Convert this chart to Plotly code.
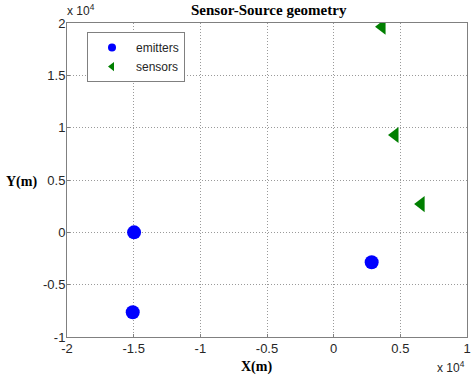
import plotly.graph_objects as go

# Data (metres)
emitter_x = [-14970, -15070, 2850]
emitter_y = [0, -7630, -2860]
sensor_x = [3630, 4600, 6560]
sensor_y = [19650, 9300, 2700]

x_ticks = [-20000, -15000, -10000, -5000, 0, 5000, 10000]
x_ticktext = ["-2", "-1.5", "-1", "-0.5", "0", "0.5", "1"]
y_ticks = [-10000, -5000, 0, 5000, 10000, 15000, 20000]
y_ticktext = ["-1", "-0.5", "0", "0.5", "1", "1.5", "2"]

BLUE = "#0000FF"
GREEN = "#007F00"
SANS = "Liberation Sans, Arial"
SERIF = "Liberation Serif, Times New Roman"

fig = go.Figure()
fig.add_trace(go.Scatter(x=emitter_x, y=emitter_y, mode="markers", name="emitters",
                         showlegend=False,
                         marker=dict(symbol="circle", size=14, color=BLUE)))
fig.add_trace(go.Scatter(x=sensor_x, y=sensor_y, mode="markers", name="sensors",
                         showlegend=False,
                         marker=dict(symbol="triangle-left", size=14, color=GREEN)))
# legend entries (smaller legend symbols as in the reference)
fig.add_trace(go.Scatter(x=[None], y=[None], mode="markers", name="emitters",
                         marker=dict(symbol="circle", size=8, color=BLUE)))
fig.add_trace(go.Scatter(x=[None], y=[None], mode="markers", name="sensors",
                         marker=dict(symbol="triangle-left", size=8, color=GREEN)))

axis_common = dict(showline=True, linecolor="#808080", linewidth=1, mirror=True,
                   showgrid=True, gridcolor="#9A9A9A", griddash="1px,2px", gridwidth=1,
                   zeroline=False, ticks="inside", ticklen=3, tickcolor="#808080",
                   tickfont=dict(family=SANS, size=13, color="#262626"),
                   automargin=False)

fig.update_xaxes(range=[-20000, 10000], tickvals=x_ticks, ticktext=x_ticktext,
                 ticklabelstandoff=-1, **axis_common)
fig.update_yaxes(range=[-10000, 20000], tickvals=y_ticks, ticktext=y_ticktext,
                 ticklabelstandoff=-2, **axis_common)

fig.update_layout(
    width=474, height=380,
    margin=dict(l=67, r=7, t=23, b=43),
    paper_bgcolor="white", plot_bgcolor="white",
    showlegend=True,
    legend=dict(x=0.05, y=0.971, xanchor="left", yanchor="top",
                bgcolor="white", bordercolor="#808080", borderwidth=1,
                font=dict(family=SANS, size=12, color="#262626"),
                itemwidth=38, tracegroupgap=0),
    annotations=[
        dict(text="<b>Sensor-Source geometry</b>", xref="paper", yref="paper",
             x=0.506, y=1.0, yshift=3, xanchor="center", yanchor="bottom", showarrow=False,
             font=dict(family=SERIF, size=15, color="black")),
        dict(text="<b>X(m)</b>", xref="paper", yref="paper", x=0.4725, y=0, yshift=-20,
             xanchor="center", yanchor="top", showarrow=False,
             font=dict(family=SERIF, size=14, color="black")),
        dict(text="<b>Y(m)</b>", xref="paper", yref="paper", x=0, xshift=-28, y=0.494,
             xanchor="right", yanchor="middle", showarrow=False,
             font=dict(family=SERIF, size=14, color="black")),
        dict(text="x 10<sup>4</sup>", xref="paper", yref="paper", x=0, y=1, xshift=-2, yshift=3,
             xanchor="left", yanchor="bottom", showarrow=False,
             font=dict(family=SANS, size=12, color="#262626")),
        dict(text="x 10<sup>4</sup>", xref="paper", yref="paper", x=1, y=0, yshift=-20,
             xanchor="right", yanchor="top", showarrow=False,
             font=dict(family=SANS, size=12, color="#262626")),
    ],
)

# remove the default 8px page margin so the figure fills the window exactly
fig.write_html("out.html", config={"displayModeBar": False},
               post_script="document.body.style.margin='0';")
